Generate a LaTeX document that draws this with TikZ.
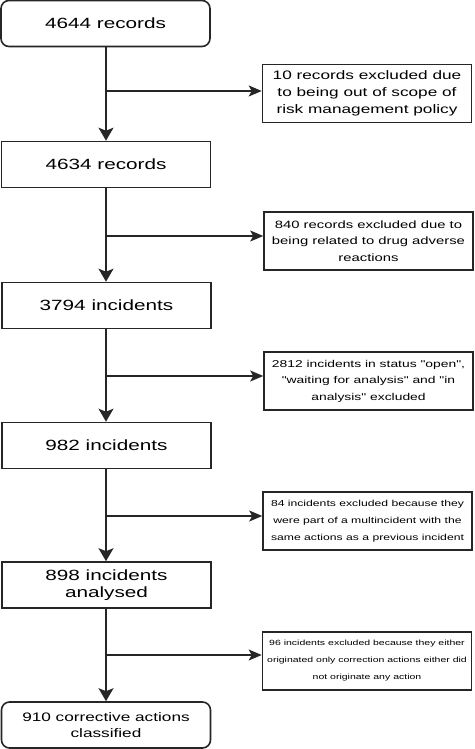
\documentclass[tikz,border=0pt]{standalone}
\usepackage{fontspec}
\setmainfont{Liberation Sans}
\newfontfamily\af[FakeStretch=1.4]{Liberation Sans}
\usetikzlibrary{arrows.meta}
\begin{document}
\begin{tikzpicture}[x=1pt,y=1pt,
  mainbox/.style={draw=black!85, line width=1.6pt, minimum width=209pt, minimum height=46pt, inner sep=0pt, align=center, font=\af\fontsize{14.8}{16.5}\selectfont},
  roundbox/.style={mainbox, rounded corners=8pt},
  sidebox/.style={draw=black!85, line width=1.6pt, minimum width=209pt, minimum height=58pt, inner sep=0pt, align=center},
  flow/.style={draw=black!85, line width=1.6pt, -{Stealth[length=13pt,width=15pt,inset=3pt]}},
  side/.style={draw=black!85, line width=1.4pt, -{Stealth[length=13pt,width=11pt,inset=3pt]}}
]
\useasboundingbox (0,0) rectangle (474,-749);
\node[roundbox] (m1) at (105.5,-23.5) {4644 records};
\node[mainbox] (m2) at (106,-164.5) {4634 records};
\node[mainbox] (m3) at (106.5,-305.5) {3794 incidents};
\node[mainbox] (m4) at (106.5,-445.5) {982 incidents};
\node[mainbox] (m5) at (106.5,-585) {898 incidents\\analysed};
\node[roundbox, font=\af\fontsize{12.3}{16}\selectfont] (m6) at (106,-725) {910 corrective actions\\classified};

\node[sidebox, font=\af\fontsize{12.3}{17}\selectfont] (s1) at (367,-93.5) {10 records excluded due\\to being out of scope of\\risk management policy};
\node[sidebox, font=\af\fontsize{10.6}{16.5}\selectfont] (s2) at (368.5,-241) {840 records excluded due to\\being related to drug adverse\\reactions};
\node[sidebox, font=\af\fontsize{9.9}{16.5}\selectfont] (s3) at (368.5,-381) {2812 incidents in status "open",\\"waiting for analysis" and "in\\analysis" excluded};
\node[sidebox, font=\af\fontsize{8.7}{17}\selectfont] (s4) at (367.5,-521) {84 incidents excluded because they\\were part of a multincident with the\\same actions as a previous incident};
\node[sidebox, font=\af\fontsize{7.5}{17}\selectfont] (s5) at (367,-661) {96 incidents excluded because they either\\originated only correction actions either did\\not originate any action};

\coordinate (b1) at (106,-91);
\coordinate (b2) at (106,-236);
\coordinate (b3) at (106,-376);
\coordinate (b4) at (106,-516);
\coordinate (b5) at (106,-655);

\draw[flow] (m1.south -| b1) -- (m2.north -| b1);
\draw[flow] (m2.south -| b2) -- (m3.north -| b2);
\draw[flow] (m3.south -| b3) -- (m4.north -| b3);
\draw[flow] (m4.south -| b4) -- (m5.north -| b4);
\draw[flow] (m5.south -| b5) -- (m6.north -| b5);

\draw[side] (b1) -- (b1 -| s1.west);
\draw[side] (b2) -- (b2 -| s2.west);
\draw[side] (b3) -- (b3 -| s3.west);
\draw[side] (b4) -- (b4 -| s4.west);
\draw[side] (b5) -- (b5 -| s5.west);
\end{tikzpicture}
\end{document}
